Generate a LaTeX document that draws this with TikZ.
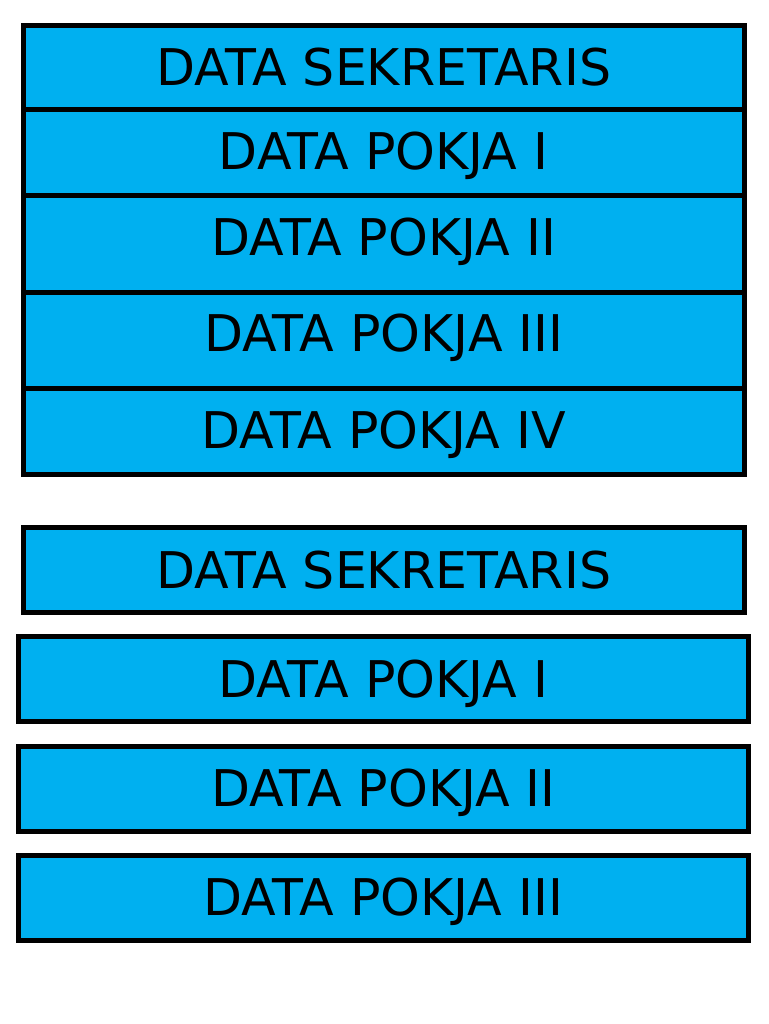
\documentclass[tikz,border=0pt]{standalone}
\usepackage{fontspec}
\setmainfont{DejaVu Sans}
\definecolor{boxblue}{HTML}{00B0F0}
\begin{document}
\begin{tikzpicture}[x=1pt,y=-1pt,
  row/.style={draw=black, line width=5pt, fill=boxblue, inner sep=0pt, outer sep=0pt,
    font=\fontsize{50.6}{60}\selectfont, text height=36.5pt, text depth=0pt, anchor=center}]
\useasboundingbox (0,0) rectangle (768,1024);
% top block
\node[row, minimum width=720.5pt, minimum height=84.5pt] (t1) at (383.75,67.75) {DATA SEKRETARIS};
\node[row, minimum width=720.5pt, minimum height=86pt, text depth=3pt] (t2) at (383.75,153) {DATA POKJA I};
\node[row, minimum width=720.5pt, minimum height=96.5pt, text depth=15pt] (t3) at (383.75,244.25) {DATA POKJA II};
\node[row, minimum width=720.5pt, minimum height=96pt, text depth=14.5pt] (t4) at (383.75,340.5) {DATA POKJA III};
\node[row, minimum width=720.5pt, minimum height=85.5pt, text depth=2pt] (t5) at (383.75,431.25) {DATA POKJA IV};
% separate boxes
\node[row, minimum width=720.5pt, minimum height=85.5pt] (b1) at (383.75,569.75) {DATA SEKRETARIS};
\node[row, minimum width=730pt, minimum height=85.5pt] (b2) at (383.5,678.75) {DATA POKJA I};
\node[row, minimum width=730pt, minimum height=85pt] (b3) at (383.5,788.5) {DATA POKJA II};
\node[row, minimum width=730pt, minimum height=85pt] (b4) at (383.5,897.5) {DATA POKJA III};
\end{tikzpicture}
\end{document}
